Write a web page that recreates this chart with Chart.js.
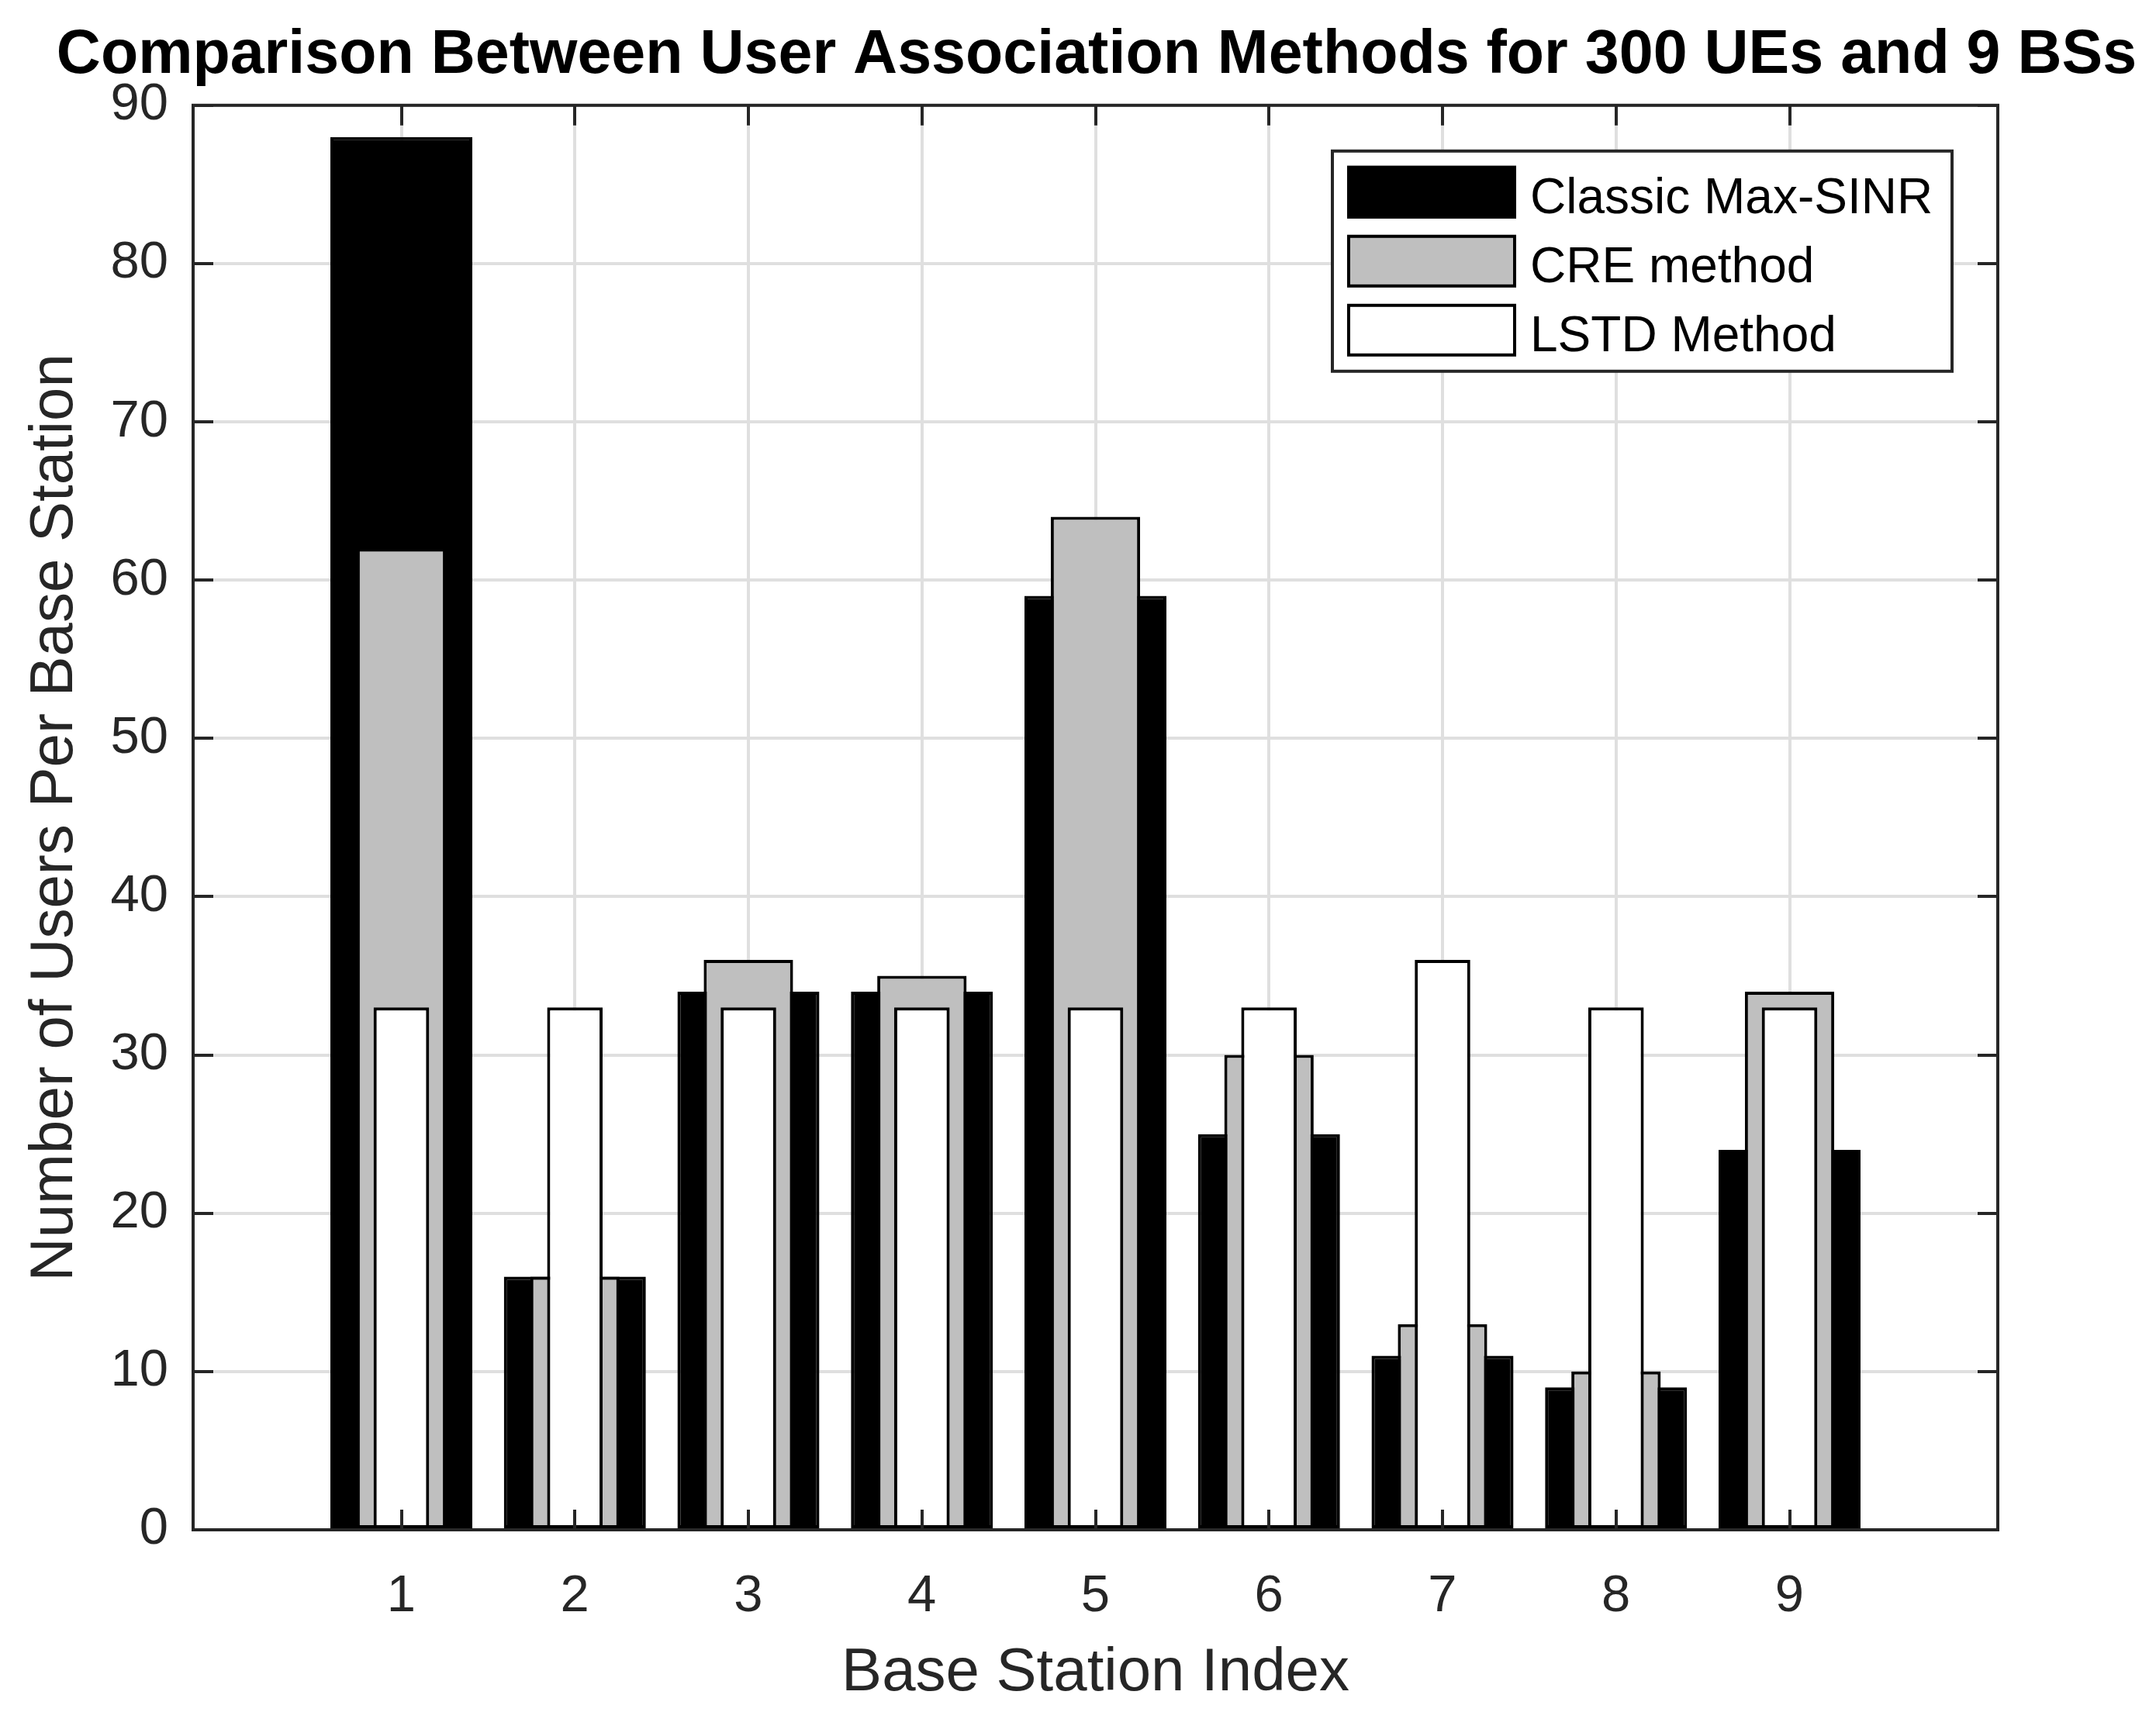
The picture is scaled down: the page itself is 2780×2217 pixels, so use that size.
<!DOCTYPE html>
<html>
<head>
<meta charset="utf-8">
<script src="https://cdn.jsdelivr.net/npm/chart.js@4.4.1/dist/chart.umd.min.js"></script>
<style>
  html, body { margin: 0; padding: 0; background: #ffffff; }
  #c { display: block; }
</style>
</head>
<body>
<canvas id="c" width="2780" height="2217"></canvas>
<script>
// ---- data ----
const stations = [1, 2, 3, 4, 5, 6, 7, 8, 9];
const classicMaxSinr = [88, 16, 34, 34, 59, 25, 11, 9, 24];
const creMethod = [62, 16, 36, 35, 64, 30, 13, 10, 34];
const lstdMethod = [33, 33, 33, 33, 33, 33, 36, 33, 33];
const seriesNames = ['Classic Max-SINR', 'CRE method', 'LSTD Method'];
const yTicks = [0, 10, 20, 30, 40, 50, 60, 70, 80, 90];

const FONT = "'Liberation Sans', Arial, Helvetica, sans-serif";
const AXIS = '#262626';
const GRID = '#dfdfdf';

// box + inward ticks drawn over data, using the chart's scales
const boxPlugin = {
  id: 'boxPlugin',
  afterDatasetsDraw(chart) {
    const { ctx, chartArea: a, scales } = chart;
    const tl = 26;
    ctx.save();
    ctx.strokeStyle = AXIS;
    ctx.lineWidth = 4;
    ctx.beginPath();
    scales.x.ticks.forEach(t => {
      const px = Math.round(scales.x.getPixelForValue(t.value));
      ctx.moveTo(px, a.bottom); ctx.lineTo(px, a.bottom - tl);
      ctx.moveTo(px, a.top); ctx.lineTo(px, a.top + tl);
    });
    scales.y.ticks.forEach(t => {
      const py = Math.round(scales.y.getPixelForValue(t.value));
      ctx.moveTo(a.left, py); ctx.lineTo(a.left + tl, py);
      ctx.moveTo(a.right, py); ctx.lineTo(a.right - tl, py);
    });
    ctx.stroke();
    ctx.strokeRect(a.left, a.top, a.right - a.left, a.bottom - a.top);
    ctx.restore();
  }
};

// boxed legend inside the plot area (upper right)
const boxLegend = {
  id: 'boxLegend',
  afterDraw(chart) {
    const { ctx, chartArea: a } = chart;
    const w = 799, h = 284;
    const x0 = a.right - 59 - w, y0 = a.top + 59;
    ctx.save();
    ctx.fillStyle = '#ffffff';
    ctx.fillRect(x0, y0, w, h);
    ctx.strokeStyle = AXIS;
    ctx.lineWidth = 4;
    ctx.strokeRect(x0, y0, w, h);
    ctx.font = '64px ' + FONT;
    ctx.textBaseline = 'middle';
    ctx.textAlign = 'left';
    chart.data.datasets.forEach((ds, i) => {
      const sy = y0 + 19 + i * 89;
      ctx.fillStyle = ds.backgroundColor;
      ctx.fillRect(x0 + 19, sy, 218, 68);
      ctx.strokeStyle = '#000000';
      ctx.lineWidth = 4;
      ctx.strokeRect(x0 + 21, sy + 2, 214, 64);
      ctx.fillStyle = '#000000';
      ctx.fillText(ds.label, x0 + 255, sy + 44);
    });
    ctx.restore();
  }
};

const ctx = document.getElementById('c').getContext('2d');
new Chart(ctx, {
  type: 'bar',
  data: {
    labels: stations,
    datasets: [
      { label: seriesNames[0], data: classicMaxSinr, backgroundColor: '#000000', borderColor: '#000000',
        borderWidth: 4, borderSkipped: false, barPercentage: 0.818, categoryPercentage: 1, order: 3 },
      { label: seriesNames[1], data: creMethod, backgroundColor: '#bfbfbf', borderColor: '#000000',
        borderWidth: 4, borderSkipped: false, barPercentage: 0.515, categoryPercentage: 1, order: 2 },
      { label: seriesNames[2], data: lstdMethod, backgroundColor: '#ffffff', borderColor: '#000000',
        borderWidth: 4, borderSkipped: false, barPercentage: 0.32, categoryPercentage: 1, order: 1 }
    ]
  },
  options: {
    responsive: false,
    devicePixelRatio: 1,
    animation: false,
    layout: { padding: { left: 48, right: 0, top: 0, bottom: 0 } },
    datasets: { bar: { grouped: false } },
    plugins: {
      legend: { display: false },
      tooltip: { enabled: false },
      title: {
        display: true,
        text: 'Comparison Between User Association Methods for 300 UEs and 9 BSs',
        color: '#000000',
        font: { family: FONT, size: 79, weight: 'bold', lineHeight: 1.2 },
        padding: { top: 25, bottom: 16 }
      }
    },
    scales: {
      x: {
        type: 'linear',
        offset: false,
        min: -0.2,
        max: 10.2,
        afterBuildTicks: s => { s.ticks = stations.map(v => ({ value: v })); },
        afterFit: s => { s.height = 244; },
        grid: { color: GRID, lineWidth: 4, drawTicks: false, offset: false },
        border: { display: false },
        ticks: { color: AXIS, font: { family: FONT, size: 67 }, padding: 46, maxRotation: 0,
                 callback: v => String(v) },
        title: { display: true, text: 'Base Station Index', color: AXIS,
                 font: { family: FONT, size: 78, lineHeight: 1.2 }, padding: { top: 0, bottom: 12 } }
      },
      y: {
        min: 0,
        max: 90,
        afterBuildTicks: s => { s.ticks = yTicks.map(v => ({ value: v })); },
        afterFit: s => { s.width = 201; },
        grid: { color: GRID, lineWidth: 4, drawTicks: false },
        border: { display: false },
        ticks: { color: AXIS, font: { family: FONT, size: 67 }, padding: 32 },
        title: { display: true, text: 'Number of Users Per Base Station', color: AXIS,
                 font: { family: FONT, size: 78, lineHeight: 0.59 }, padding: { top: 0, bottom: 0 } }
      },
      yRight: {
        position: 'right',
        min: 0,
        max: 90,
        afterFit: s => { s.width = 204; },
        grid: { display: false, drawTicks: false },
        border: { display: false },
        ticks: { display: false }
      }
    }
  },
  plugins: [boxPlugin, boxLegend]
});
</script>
</body>
</html>
